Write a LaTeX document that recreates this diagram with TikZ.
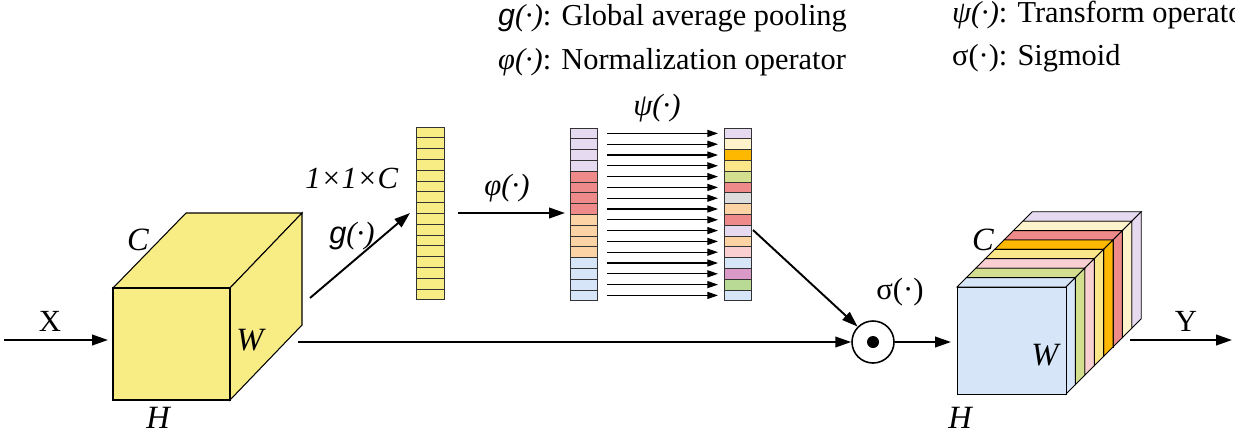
\documentclass[tikz,border=0pt]{standalone}
\usepackage{fontspec}
\setmainfont{Liberation Serif}
\newfontfamily\sansf{Liberation Sans}
\usetikzlibrary{arrows.meta}
\definecolor{cyel}{HTML}{F8EC85}
\definecolor{clav}{HTML}{E6DAF0}
\definecolor{cred}{HTML}{EE8A8A}
\definecolor{corg}{HTML}{FBD3A5}
\definecolor{cblu}{HTML}{D6E6F8}
\definecolor{ccre}{HTML}{FFF3CC}
\definecolor{cgold}{HTML}{FFB800}
\definecolor{cyl2}{HTML}{FCE68A}
\definecolor{cgrn}{HTML}{D3DF8E}
\definecolor{cgry}{HTML}{DDDDDD}
\definecolor{cpnk}{HTML}{F9CFD2}
\definecolor{cpur}{HTML}{D99AC8}
\definecolor{cgr2}{HTML}{B9DA95}
\tikzset{arr/.style={-{Triangle[length=9pt,width=6pt]},line width=1.1pt},
 sarr/.style={-{Triangle[length=6pt,width=4pt]},line width=0.6pt},
 cell/.style={draw=black!80,line width=0.5pt},
 lbl/.style={font=\fontsize{17.5}{20}\selectfont},
 ital/.style={font=\fontsize{18.5}{21}\selectfont\itshape},
 lgd/.style={font=\fontsize{17.3}{20}\selectfont,anchor=west}}
\begin{document}
\begin{tikzpicture}[x=0.02cm,y=-0.02cm]
\useasboundingbox (0,0) rectangle (1235,434);
% legend
\node[lgd] (l1) at (492,18) {{\sansf\itshape g}\textit{(·)}: Global average pooling};
\node[lgd] (l2) at (492,62) {\textit{φ(·)}: Normalization operator};
\node[lgd] (l3) at (946,15) {\textit{ψ(·)}: Transform operator};
\node[lgd] (l4) at (946,58) {σ(·): Sigmoid};
% input cube
\draw[fill=cyel,line width=0.6pt] (113,288) -- (186,213) -- (302,213) -- (230,288) -- cycle;
\draw[fill=cyel,line width=0.6pt] (230,288) -- (302,213) -- (302,325) -- (230,400) -- cycle;
\draw[fill=cyel,line width=0.6pt] (113,288) rectangle (230,400);
\coordinate (cubeR) at (298,342);
\coordinate (cubeTR) at (310,298);
\node[ital] (c1) at (138,240) {C};
\node[ital] (w1) at (250,340) {W};
\node[ital] (h1) at (158,418) {H};
\node[lbl] (x) at (50,321) {X};
\coordinate (xs) at (4,340);
\coordinate (xe) at (108,340);
\draw[arr] (xs) -- (xe);
% pooled column
\foreach \i in {0,...,15}{\draw[cell,fill=cyel] (416,{127+\i*10.8}) rectangle (444,{127+(\i+1)*10.8});}
\coordinate (gend) at (410,213);
\draw[arr] (cubeTR) -- (gend);
\node[lbl] (glab) at (352,236) {{\sansf\itshape g}\textit{(·)}};
\node[lbl] (dim) at (352,178) {\textit{1×1×C}};
\coordinate (ps) at (458,213);
\coordinate (pe) at (565,213);
\draw[arr] (ps) -- (pe);
\node[lbl] (plab) at (507,188) {\textit{φ(·)}};
% normalized column
\foreach \c [count=\i from 0] in {clav,clav,clav,clav,cred,cred,cred,cred,corg,corg,corg,corg,cblu,cblu,cblu,cblu}{
 \draw[cell,fill=\c] (570,{128+\i*10.8}) rectangle (597,{128+(\i+1)*10.8});}
\foreach \c [count=\i from 0] in {clav,ccre,cgold,cyl2,cgrn,cred,cgry,corg,cred,clav,corg,cpnk,cblu,cpur,cgr2,cblu}{
 \draw[cell,fill=\c] (724,{128+\i*10.8}) rectangle (751,{128+(\i+1)*10.8});
 \coordinate (a\i) at (607,{133.4+\i*10.8});
 \coordinate (b\i) at (718,{133.4+\i*10.8});
 \draw[sarr] (a\i) -- (b\i);}
\node[lbl] (psi) at (657,108) {\textit{ψ(·)}};
% odot
\node[draw,circle,line width=0.9pt,minimum size=42*0.02cm,inner sep=0pt] (od) at (873,342) {};
\fill (od.center) circle (6*0.02cm);
\coordinate (ss) at (753,230);
\draw[arr] (ss) -- (od.north west);
\node[lbl] (sig) at (900,292) {σ(·)};
\draw[arr] (cubeR) -- (od.west);
\coordinate (oe) at (951,342);
\draw[arr] (od.east) -- (oe);
% output stack
\foreach \c/\k in {clav/7,ccre/6,cred/5,cgold/4,cyl2/3,cpnk/2,cgrn/1,cblu/0}{
 \pgfmathsetmacro{\dx}{957+\k*9.4}
 \pgfmathsetmacro{\dy}{287-\k*9.4}
 \draw[fill=\c,line width=0.5pt] (\dx,\dy) -- (\dx+9.4,\dy-9.4) -- (\dx+9.4+109,\dy-9.4) -- (\dx+109,\dy) -- cycle;
 \draw[fill=\c,line width=0.5pt] (\dx+109,\dy) -- (\dx+109+9.4,\dy-9.4) -- (\dx+109+9.4,\dy-9.4+107) -- (\dx+109,\dy+107) -- cycle;
 \draw[fill=\c,line width=0.5pt] (\dx,\dy) rectangle (\dx+109,\dy+107);
}
\node[ital] (c2) at (983,240) {C};
\node[ital] (w2) at (1045,355) {W};
\node[ital] (h2) at (960,418) {H};
\node[lbl] (y) at (1186,321) {Y};
\coordinate (ys) at (1130,340);
\coordinate (ye) at (1232,340);
\draw[arr] (ys) -- (ye);
\end{tikzpicture}
\end{document}
